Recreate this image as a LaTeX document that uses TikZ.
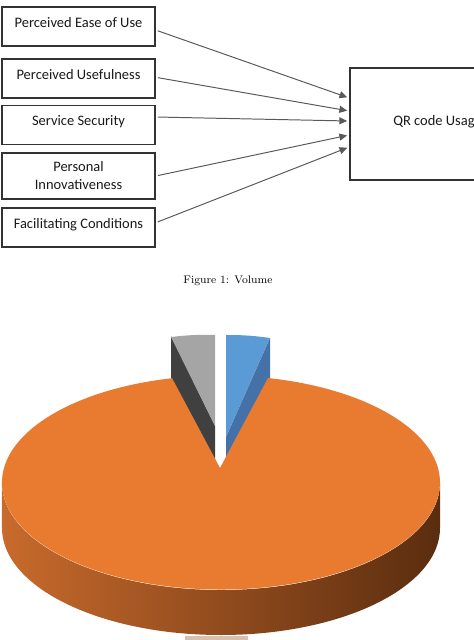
\documentclass[tikz,border=0pt]{standalone}
\usepackage{fontspec}
\newfontfamily\calfont{Carlito}
\usetikzlibrary{positioning,arrows.meta,calc}
\definecolor{pieorange}{RGB}{233,123,48}
\definecolor{sideleft}{RGB}{200,106,44}
\definecolor{sidemid}{RGB}{140,74,30}
\definecolor{sideright}{RGB}{90,45,15}
\definecolor{greylight}{RGB}{165,165,165}
\definecolor{greydark}{RGB}{64,64,64}
\definecolor{bluelight}{RGB}{91,155,213}
\definecolor{bluedark}{RGB}{68,114,168}
\definecolor{shadowtan}{RGB}{216,192,176}

\begin{document}
\begin{tikzpicture}[
    x=0.025cm, y=-0.025cm,
    factor/.style={draw=black!80, line width=1.1pt, minimum width=3.825cm,
      minimum height=0.975cm, inner sep=0pt, align=center,
      text height=7.5pt, text depth=6.5pt,
      font=\calfont\fontsize{10.3}{12.8}\selectfont, text=black!90},
    link/.style={draw=black!65, line width=0.7pt,
      -{Triangle[length=5.5pt,width=5pt]}, shorten >=1.5pt, shorten <=1.5pt},
    captext/.style={font=\fontsize{7.8}{9}\selectfont}
  ]
  \clip (0,0) rectangle (474,640);

  \node[factor] (peou) at (78.5,26.5) {Perceived Ease of Use};
  \node[factor] (pu) at (78.5,78.5) {Perceived Usefulness};
  \node[factor] (ss) at (78.5,125) {Service Security};
  \node[factor, minimum height=1.15cm, text height=, text depth=] (pi) at (78.5,176) {Personal\\Innovativeness};
  \node[factor] (fc) at (78.5,227.5) {Facilitating Conditions};
  \node[factor, minimum width=4.375cm, minimum height=2.8cm, text depth=5pt] (qr) at (437.5,124) {QR code Usage};

  \draw[link] ([yshift=-0.09cm]peou.east) -- ([yshift=0.65cm]qr.west);
  \draw[link] ([yshift=0.03cm]pu.east) -- ([yshift=0.325cm]qr.west);
  \draw[link] ([yshift=0.2cm]ss.east) -- ([yshift=0.075cm]qr.west);
  \draw[link] (pi.east) -- ([yshift=-0.275cm]qr.west);
  \draw[link] ([yshift=0.12cm]fc.east) -- ([yshift=-0.575cm]qr.west);

  \node[captext] (caption) at (228,281) {Figure 1: Volume};

  \fill[greydark] (171,336) -- (215,426) -- (215,462) -- (171,400) -- cycle;
  \fill[greylight] (171,337) to[bend left=4] (215,335) -- (215,426) -- cycle;
  \fill[bluedark] (270,338) -- (270,400) -- (226,462) -- (226,437) -- cycle;
  \fill[bluelight] (226,335) to[bend left=4] (270,338) -- (226,437) -- cycle;

  \fill[shadowtan] (185,636) rectangle (248,641);
  \shade[left color=sideleft, middle color=sidemid, right color=sideright]
    (2,483) -- (2,528) arc[start angle=180, end angle=0, x radius=219, y radius=107]
    -- (440,483) arc[start angle=0, end angle=180, x radius=219, y radius=107] -- cycle;
  \fill[pieorange] (268,378) arc[start angle=-77.6, end angle=257.1, x radius=219, y radius=107]
    -- (220,468) -- cycle;
\end{tikzpicture}
\end{document}
